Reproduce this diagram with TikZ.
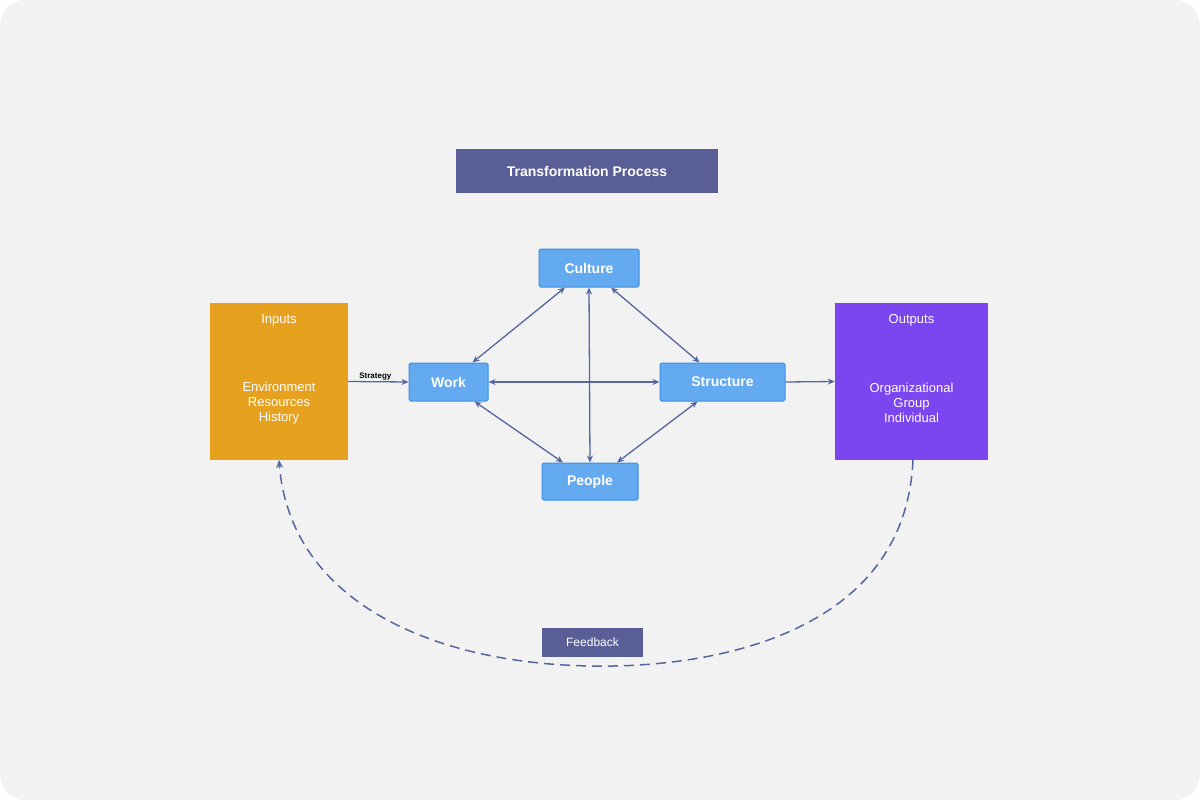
\documentclass[tikz,border=0pt]{standalone}
\usepackage{fontspec}
\setmainfont{Liberation Sans}
\usetikzlibrary{arrows.meta}
\definecolor{bg}{HTML}{F2F2F2}
\definecolor{navy}{HTML}{5A5E96}
\definecolor{sky}{HTML}{64AAF0}
\definecolor{skyb}{HTML}{3C8FE0}
\definecolor{org}{HTML}{E6A11F}
\definecolor{pur}{HTML}{7B45EF}
\definecolor{arr}{HTML}{5566A0}
\begin{document}
\begin{tikzpicture}[x=1pt,y=-1pt,
  box/.style={draw=skyb,line width=1pt,fill=sky,rounded corners=1.5pt,text=white,font=\fontsize{14}{16}\selectfont\bfseries,minimum height=38pt,inner sep=0pt},
  big/.style={text=white,font=\fontsize{13}{16}\selectfont,minimum width=#1,minimum height=157pt,inner sep=0pt},
  lab/.style={fill=navy,text=white,inner sep=0pt},
  con/.style={draw=arr,line width=1.3pt,-{Stealth[length=7pt,width=6pt]}},
  dcon/.style={con,{Stealth[length=7pt,width=6pt]}-{Stealth[length=7pt,width=6pt]}}]
\fill[white] (0,0) rectangle (1200,800);
\fill[bg,rounded corners=25pt] (0,0) rectangle (1200,800);
\node[lab,minimum width=262pt,minimum height=44pt,font=\fontsize{14}{16}\selectfont\bfseries] (title) at (587,171) {Transformation Process};
\node[box,minimum width=100pt] (cul) at (589,268) {Culture};
\node[box,minimum width=79pt] (work) at (448.5,382) {Work};
\node[box,minimum width=125pt] (str) at (722.5,382) {Structure};
\node[box,minimum width=96pt,minimum height=37pt] (peo) at (590,481.5) {People};
\node[big=138pt,fill=org] (in) at (279,381.5) {};
\node[big=153pt,fill=pur] (out) at (911.5,381.5) {};
\node[text=white,font=\fontsize{13}{16}\selectfont] (int) at (279,320) {Inputs};
\node[text=white,font=\fontsize{13}{16}\selectfont,align=center] (inb) at (279,403) {Environment\\[-1pt]Resources\\[-1pt]History};
\node[text=white,font=\fontsize{13}{16}\selectfont] (outt) at (911.5,320) {Outputs};
\node[text=white,font=\fontsize{13}{16}\selectfont,align=center] (outb) at (911.5,403) {Organizational\\[-1pt]Group\\[-1pt]Individual};
\coordinate (fbA) at (913,460);
\coordinate (fbB) at (279,460);
\draw[arr,line width=1.5pt,dash pattern=on 10pt off 6pt,-{Stealth[length=8pt,width=7pt]}] (fbA) .. controls (905,640) and (700,668) .. (593,666) .. controls (430,664) and (290,600) .. (fbB);
\node[lab,minimum width=101pt,minimum height=29pt,font=\fontsize{12}{14}\selectfont] (fb) at (592.5,642.5) {Feedback};
\draw[con] (in.east) -- node[above,font=\fontsize{8}{9}\selectfont\bfseries,text=black,inner sep=1pt,pos=0.45] {Strategy} (work.west);
\draw[con] (str.east) -- (out.west);
\draw[dcon] (work.east) -- (str.west);
\draw[dcon] (cul.south) -- (peo.north);
\draw[dcon] ([xshift=-24pt]cul.south) -- ([xshift=24pt]work.north);
\draw[dcon] ([xshift=22pt]cul.south) -- ([xshift=-23pt]str.north);
\draw[dcon] ([xshift=26pt]work.south) -- ([xshift=-27pt]peo.north);
\draw[dcon] ([xshift=-25pt]str.south) -- ([xshift=27pt]peo.north);
\end{tikzpicture}
\end{document}
